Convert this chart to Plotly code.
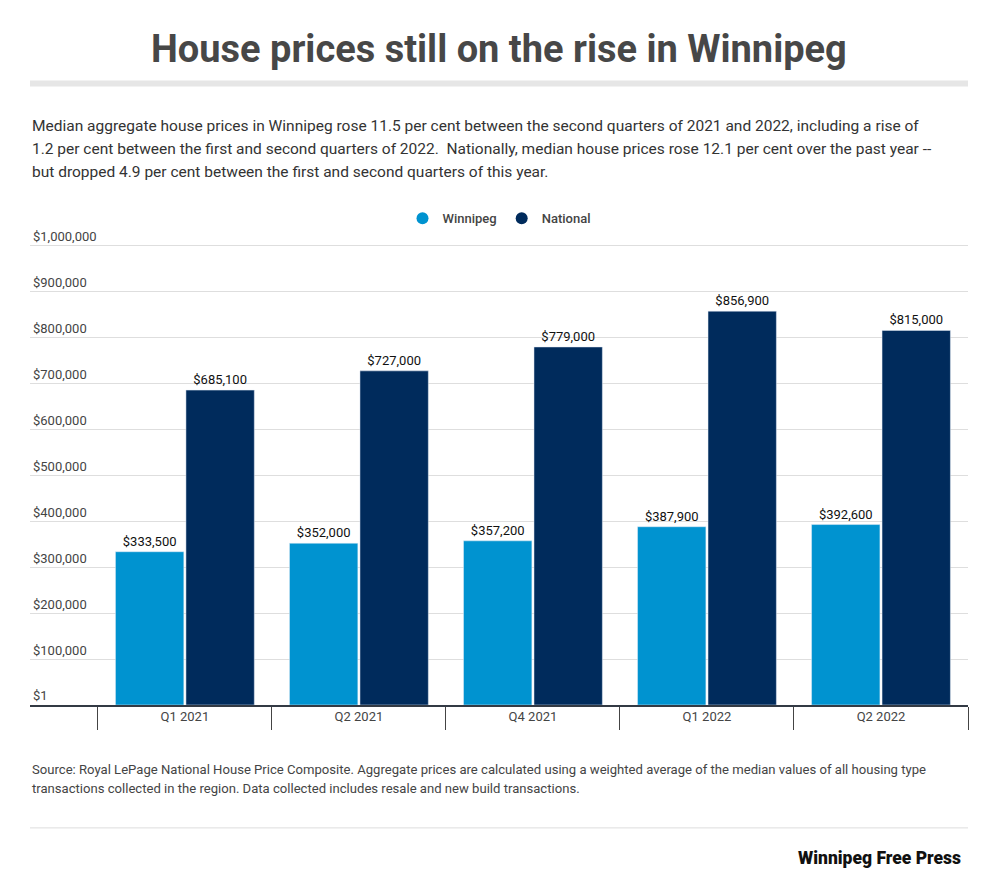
import plotly.graph_objects as go

# Data
quarters = ["Q1 2021", "Q2 2021", "Q4 2021", "Q1 2022", "Q2 2022"]
winnipeg = [333500, 352000, 357200, 387900, 392600]
national = [685100, 727000, 779000, 856900, 815000]

y_ticks = [0, 100000, 200000, 300000, 400000, 500000, 600000, 700000, 800000, 900000, 1000000]
y_tick_text = ["$1", "$100,000", "$200,000", "$300,000", "$400,000", "$500,000",
               "$600,000", "$700,000", "$800,000", "$900,000", "$1,000,000"]

title_text = "House prices still on the rise in Winnipeg"
intro_lines = [
    "Median aggregate house prices in Winnipeg rose 11.5 per cent between the second quarters of 2021 and 2022, including a rise of",
    "1.2 per cent between the first and second quarters of 2022.  Nationally, median house prices rose 12.1 per cent over the past year --",
    "but dropped 4.9 per cent between the first and second quarters of this year.",
]
source_lines = [
    "Source: Royal LePage National House Price Composite. Aggregate prices are calculated using a weighted average of the median values of all housing type",
    "transactions collected in the region. Data collected includes resale and new build transactions.",
]

WPG_BLUE = "#0093d0"
NAVY = "#002b5c"
FONT = "Roboto, 'Noto Sans', sans-serif"

# the page body adds an 8px margin, so the figure is drawn a bit smaller
OFF = 8
FW, FH = 984, 875
Y_TOP = 1040000
# plot area in page pixels: x 30..968, $0 at y=705, $1,000,000 at y=245
px_per_val = (705 - 245) / 1000000
L = 30 - OFF
R = FW - (968 - OFF)
B = FH - (705 - OFF)
T = (245 - OFF) - (Y_TOP - 1000000) * px_per_val
plot_h = FH - T - B
plot_w = FW - L - R


def py(page_y):
    # page pixel row -> paper y
    return (FH - B - (page_y - OFF)) / plot_h


def px(page_x):
    return (page_x - OFF - L) / plot_w


def money(v):
    return "${:,}".format(v)


fig = go.Figure()

fig.add_trace(go.Bar(
    x=quarters, y=winnipeg, name="Winnipeg", marker_color=WPG_BLUE,
    text=[money(v) for v in winnipeg], textposition="outside",
    textfont=dict(size=13, color="#111111"), cliponaxis=False,
    showlegend=False, hoverinfo="x+y",
))
fig.add_trace(go.Bar(
    x=quarters, y=national, name="National", marker_color=NAVY,
    text=[money(v) for v in national], textposition="outside",
    textfont=dict(size=13, color="#111111"), cliponaxis=False,
    showlegend=False, hoverinfo="x+y",
))

# circle markers for the legend
for name, col in [("Winnipeg", WPG_BLUE), ("National", NAVY)]:
    fig.add_trace(go.Scatter(
        x=[None], y=[None], mode="markers", name=name,
        marker=dict(color=col, size=16, symbol="circle"),
    ))

annotations = [
    dict(text="<b>" + title_text + "</b>", x=0.5, xref="paper", y=py(48), yref="paper",
         xanchor="center", yanchor="middle", showarrow=False,
         font=dict(size=38, color="#474747", family=FONT)),
    dict(text="Winnipeg Free Press", x=px(963), xref="paper", y=py(858), yref="paper",
         xanchor="right", yanchor="middle", showarrow=False,
         font=dict(size=17.5, color="#111111", family=FONT, weight=900)),
]
for i, line in enumerate(intro_lines):
    annotations.append(dict(
        text=line, x=0, xref="paper", y=py(126 + 23 * i), yref="paper",
        xanchor="left", yanchor="middle", showarrow=False,
        font=dict(size=15.5, color="#333333", family=FONT)))
for i, line in enumerate(source_lines):
    annotations.append(dict(
        text=line, x=0, xref="paper", y=py(770 + 18.5 * i), yref="paper",
        xanchor="left", yanchor="middle", showarrow=False,
        font=dict(size=13.1, color="#444444", family=FONT)))

shapes = [
    # grey rule under the title
    dict(type="rect", xref="paper", yref="paper", x0=0, x1=1, y0=py(86), y1=py(80),
         fillcolor="#e6e6e6", line_width=0, layer="above"),
    # thin rule above the logo
    dict(type="line", xref="paper", yref="paper", x0=0, x1=1, y0=py(828), y1=py(828),
         line=dict(color="#dddddd", width=1)),
]

fig.update_layout(
    width=FW, height=FH,
    margin=dict(l=L, r=R, t=T, b=B, pad=0),
    paper_bgcolor="white", plot_bgcolor="white",
    font=dict(family=FONT, color="#444444"),
    barmode="group", bargap=0.19, bargroupgap=0.03,
    legend=dict(orientation="h", x=0.5, xanchor="center", y=py(218), yanchor="middle",
                font=dict(size=13, color="#444444", weight=500), itemsizing="constant",
                bgcolor="rgba(0,0,0,0)"),
    annotations=annotations,
    shapes=shapes,
)

fig.update_xaxes(
    range=[-0.89, 4.5], showline=True, linecolor="#333a44", linewidth=2,
    ticks="outside", tickson="boundaries", ticklen=23, tickcolor="#444444", tickwidth=1,
    ticklabelstandoff=-2, tickfont=dict(size=13, color="#444444"),
    showgrid=False, fixedrange=True,
)
fig.update_yaxes(
    range=[0, Y_TOP], tickvals=y_ticks, ticktext=y_tick_text,
    ticklabelposition="inside top", tickfont=dict(size=13, color="#444444"),
    showgrid=True, gridcolor="#dedede", gridwidth=1, zeroline=False,
    showline=False, ticks="", fixedrange=True,
)

fig.write_html("out.html", config={"displayModeBar": False})
